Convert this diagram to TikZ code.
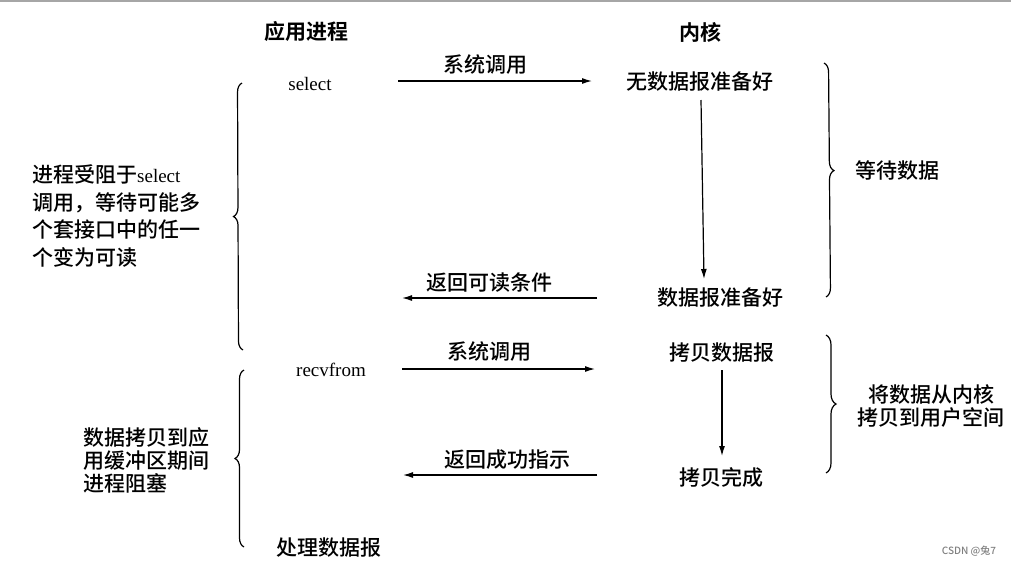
\documentclass[tikz,border=0pt]{standalone}
\usepackage{fontspec}
\setmainfont{Liberation Serif}
\newfontfamily\cjk{Noto Sans CJK SC}[UprightFont={* Medium},BoldFont={* Bold}]
\usetikzlibrary{decorations.pathreplacing,arrows.meta}
\begin{document}
\begin{tikzpicture}[x=1pt,y=-1pt,
  cn/.style={font=\cjk\fontsize{21}{27.5}\selectfont, inner sep=0pt},
  cnt/.style={font=\cjk\fontsize{21}{23}\selectfont, inner sep=0pt},
  hd/.style={font=\cjk\bfseries\fontsize{21}{27}\selectfont, inner sep=0pt},
  en/.style={font=\rmfamily\fontsize{19}{23}\selectfont, inner sep=0pt},
  arr/.style={line width=1.2pt, -{Latex[length=10pt,width=6pt]}},
  brc/.style={line width=1.2pt, decorate, decoration={brace, amplitude=9pt}},
]
\useasboundingbox (0,0) rectangle (1011,566);
\draw[gray!70, line width=2pt] (0,1) -- (1011,1);

% headers
\node[hd] (hApp) at (306,31) {应用进程};
\node[hd] (hKer) at (700,32) {内核};

% application side
\node[en] (sel) at (310,84) {select};
\node[en] (recv) at (331,370) {recvfrom};
\node[cn] (proc) at (329,548) {处理数据报};

% kernel side
\node[cn] (nodata) at (700,82) {无数据报准备好};
\node[cn] (ready) at (720,298) {数据报准备好};
\node[cn] (copy) at (722,353) {拷贝数据报};
\node[cn] (done) at (721,477) {拷贝完成};

% arrow labels
\node[cn] (l1) at (485,65) {系统调用};
\node[cn] (l2) at (489,283) {返回可读条件};
\node[cn] (l3) at (489,352) {系统调用};
\node[cn] (l4) at (507,460) {返回成功指示};

% side descriptions
\node[cn, anchor=west, align=left] (d1) at (32,216) {进程受阻于{\rmfamily\fontsize{19}{27.5}\selectfont select}\\调用，等待可能多\\个套接口中的任一\\个变为可读};
\node[cnt, anchor=west, align=left] (d2) at (83,460) {数据拷贝到应\\用缓冲区期间\\进程阻塞};
\node[cn] (wait) at (897,170) {等待数据};
\node[cnt, align=center] (copyk) at (931,406) {将数据从内核\\拷贝到用户空间};

% watermark
\node[font=\cjk\fontsize{10}{12}\selectfont, text=gray, inner sep=0pt] (wm) at (969,551) {CSDN @兔7};

% connector end points
\coordinate (a1s) at (398,81); \coordinate (a1e) at (592,81);
\coordinate (a2s) at (597,298); \coordinate (a2e) at (402,298);
\coordinate (a3s) at (402,369); \coordinate (a3e) at (595,369);
\coordinate (a4s) at (597,475); \coordinate (a4e) at (403,475);
\coordinate (v1s) at (701,100); \coordinate (v1e) at (704,279);
\coordinate (v2s) at (722,370); \coordinate (v2e) at (722,456);

\draw[arr] (a1s) -- (a1e);
\draw[arr] (a2s) -- (a2e);
\draw[arr] (a3s) -- (a3e);
\draw[arr] (a4s) -- (a4e);
\draw[arr] (v1s) -- (v1e);
\draw[arr] (v2s) -- (v2e);

% braces
\coordinate (b1t) at (242,83);  \coordinate (b1b) at (243,350);
\coordinate (b2t) at (244,370); \coordinate (b2b) at (244,547);
\coordinate (b3t) at (824,63);  \coordinate (b3b) at (826,297);
\coordinate (b4t) at (826,335); \coordinate (b4b) at (826,473);
\draw[brc] (b1b) -- (b1t);
\draw[brc] (b2b) -- (b2t);
\draw[brc, decoration={brace, amplitude=9pt, aspect=0.46}] (b3t) -- (b3b);
\draw[brc, decoration={brace, amplitude=10pt}] (b4t) -- (b4b);
\end{tikzpicture}
\end{document}
